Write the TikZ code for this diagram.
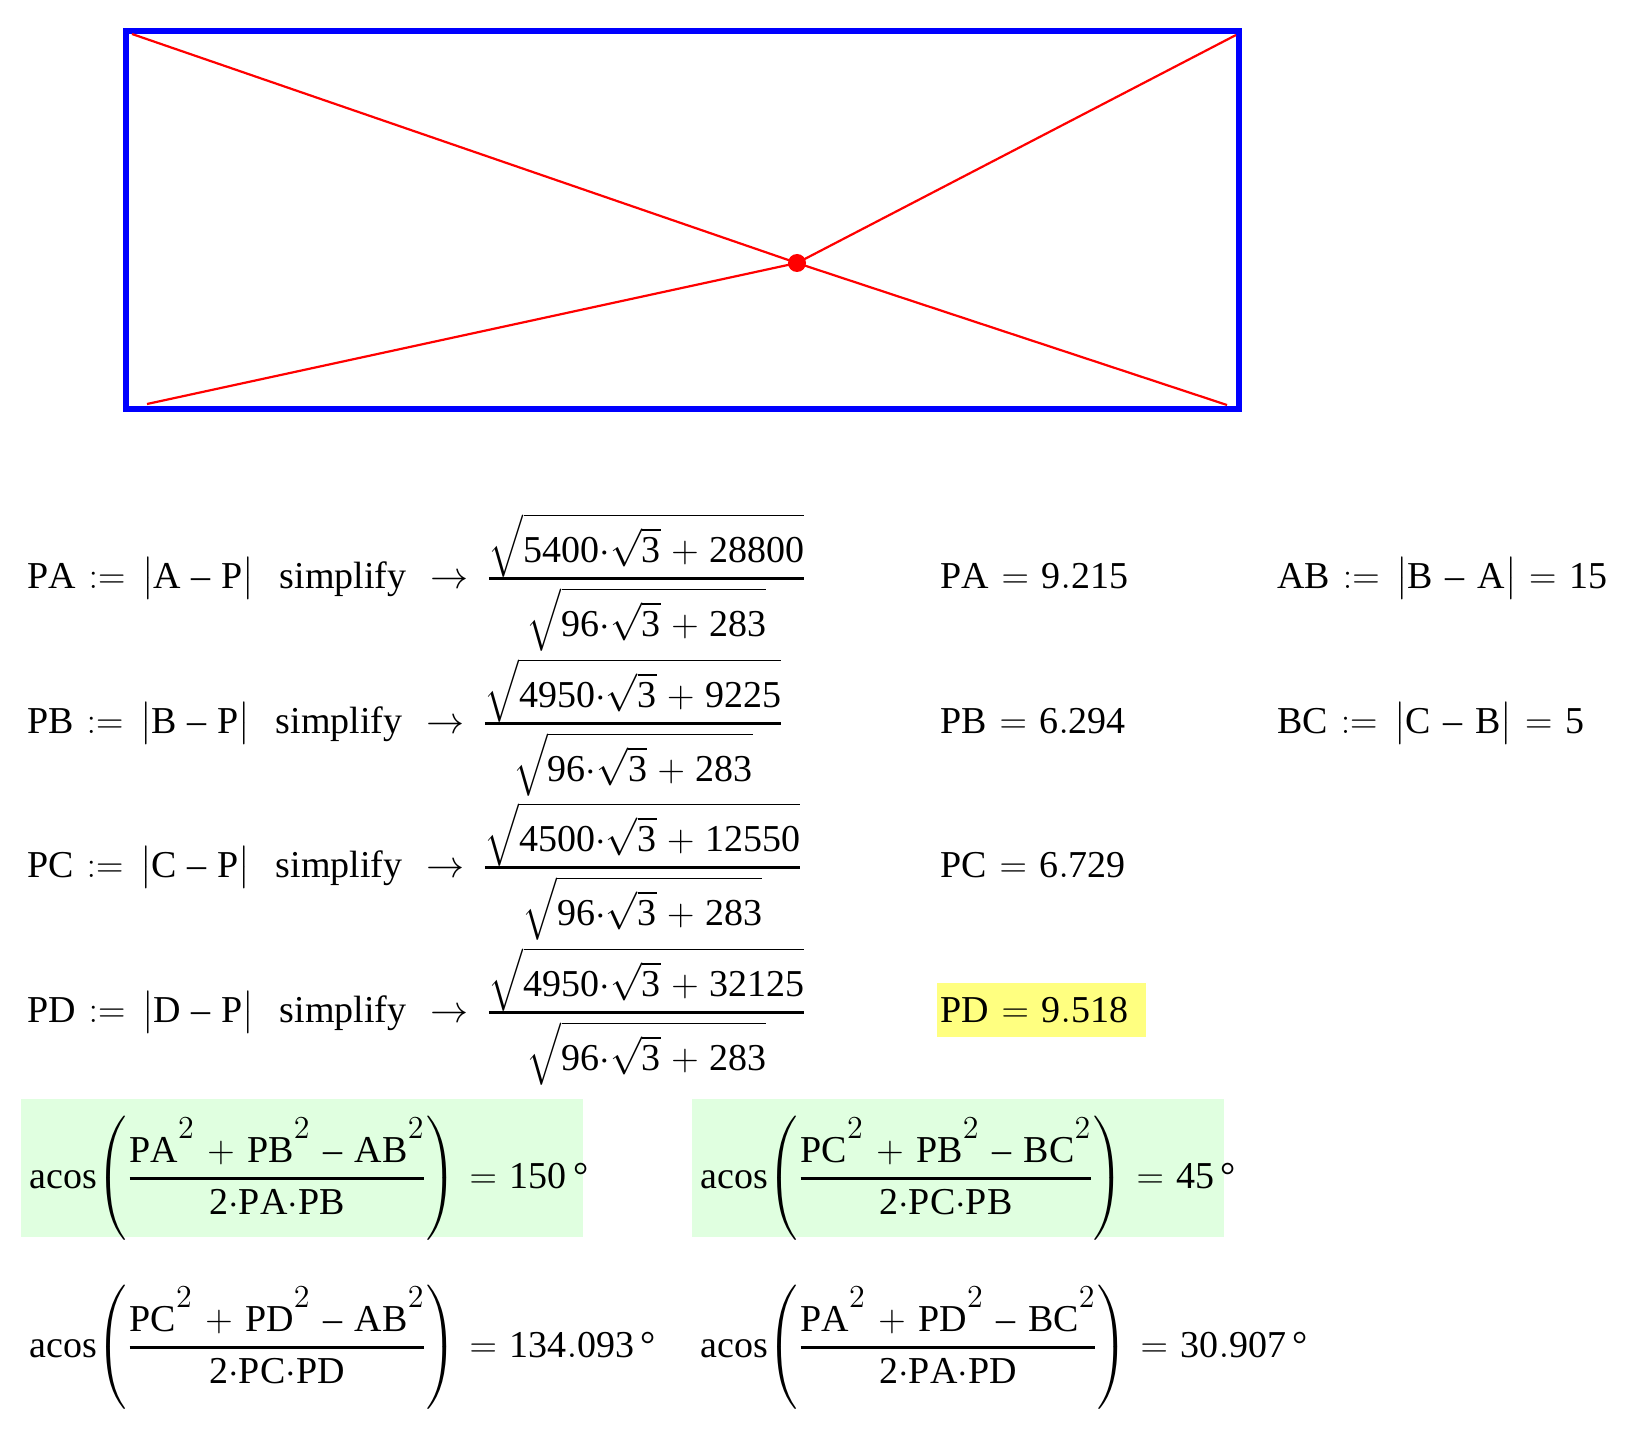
\documentclass[tikz,border=0pt]{standalone}
\usepackage{fix-cm}
\usepackage{amsmath}
\usepackage{fontspec}
\setmainfont{Liberation Serif}
\DeclareMathSizes{19}{19}{16}{12}
\definecolor{hlgreen}{RGB}{224,255,224}
\definecolor{hlyellow}{RGB}{255,255,128}
\thickmuskip=6mu
\medmuskip=6mu
\newcommand\mi{\mathbin{\text{–}}}
\newcommand\dt{{\cdot}}
\newcommand\sq{^{\raisebox{5pt}{$\scriptstyle 2$}}}
\newcommand\fr[2]{\genfrac{}{}{1.3pt}{0}{#1}{#2}}
\newcommand\absv[1]{\hspace{2pt}\bigl|#1\bigr|}
\newcommand\simp{\hspace{13pt}\text{simplify}\hspace{12pt}\mathord{\to}\hspace{9pt}}
\newcommand\rts{\sqrt{96\dt\sqrt{3} + 283}}
\newcommand\rtfr[1]{\fr{\smash[b]{\mathrm{\sqrt{#1}}}}{\rts}}
\newcommand\acosf[2]{\text{acos}\mathopen{}\left(\fr{#1}{#2}\right)}
\tikzset{
  eqn/.style={anchor=base west, inner sep=0pt, font=\fontsize{19}{23}\selectfont},
  rowq/.style={eqn, execute at begin node={\medmuskip=5mu\relax}},
  frame/.style={draw=blue, line width=2.75pt},
  ray/.style={draw=red, line width=1.1pt},
}

\begin{document}
\begin{tikzpicture}[x=0.5pt, y=-0.5pt]
\useasboundingbox (0,0) rectangle (1631,1428);
\coordinate (A) at (125.8,409);
\coordinate (B) at (1239,409);
\coordinate (C) at (1239,30.8);
\coordinate (D) at (125.8,30.8);
\coordinate (A1) at (147,404);
\coordinate (B1) at (1227,405);
\coordinate (C1) at (1236,35);
\coordinate (D1) at (132,34);
\draw[frame] (A) -- (B) -- (C) -- (D) -- cycle;
\node[circle, fill=red, inner sep=0pt, minimum size=9pt] (P) at (797,263) {};
\draw[ray] (P.center) -- (A1);
\draw[ray] (P.center) -- (B1);
\draw[ray] (P.center) -- (C1);
\draw[ray] (P.center) -- (D1);

\node[rowq] (pa) at (27,588) {$\mathrm{PA \mathrel{:=} \absv{A \mi P}\simp\rtfr{5400\dt\sqrt{3} + 28800}}$};
\node[rowq] (pb) at (27,733) {$\mathrm{PB \mathrel{:=} \absv{B \mi P}\simp\rtfr{4950\dt\sqrt{3} + 9225}}$};
\node[rowq] (pc) at (27,877) {$\mathrm{PC \mathrel{:=} \absv{C \mi P}\simp\rtfr{4500\dt\sqrt{3} + 12550}}$};
\node[rowq] (pd) at (27,1022) {$\mathrm{PD \mathrel{:=} \absv{D \mi P}\simp\rtfr{4950\dt\sqrt{3} + 32125}}$};

\fill[hlyellow] (937,983) rectangle (1146,1037);
\node[eqn] (pav) at (940,588) {$\mathrm{PA = 9.215}$};
\node[eqn] (pbv) at (940,733) {$\mathrm{PB = 6.294}$};
\node[eqn] (pcv) at (940,877) {$\mathrm{PC = 6.729}$};
\node[eqn] (pdv) at (940,1022) {$\mathrm{PD = 9.518}$};
\node[eqn] (ab) at (1277,588) {$\mathrm{AB \mathrel{:=} \absv{B \mi A} = 15}$};
\node[eqn] (bc) at (1277,733) {$\mathrm{BC \mathrel{:=} \absv{C \mi B} = 5}$};

\fill[hlgreen] (21,1099) rectangle (583,1237);
\fill[hlgreen] (692,1099) rectangle (1224,1237);
\node[eqn] (apb) at (29,1188) {$\mathrm{\acosf{PA\sq + PB\sq \mi AB\sq}{2\dt PA\dt PB} = 150\,\text{°}}$};
\node[eqn] (bpc) at (700,1188) {$\mathrm{\acosf{PC\sq + PB\sq \mi BC\sq}{2\dt PC\dt PB} = 45\,\text{°}}$};
\node[eqn] (cpd) at (29,1357) {$\mathrm{\acosf{PC\sq + PD\sq \mi AB\sq}{2\dt PC\dt PD} = 134.093\,\text{°}}$};
\node[eqn] (apd) at (700,1357) {$\mathrm{\acosf{PA\sq + PD\sq \mi BC\sq}{2\dt PA\dt PD} = 30.907\,\text{°}}$};
\end{tikzpicture}
\end{document}
